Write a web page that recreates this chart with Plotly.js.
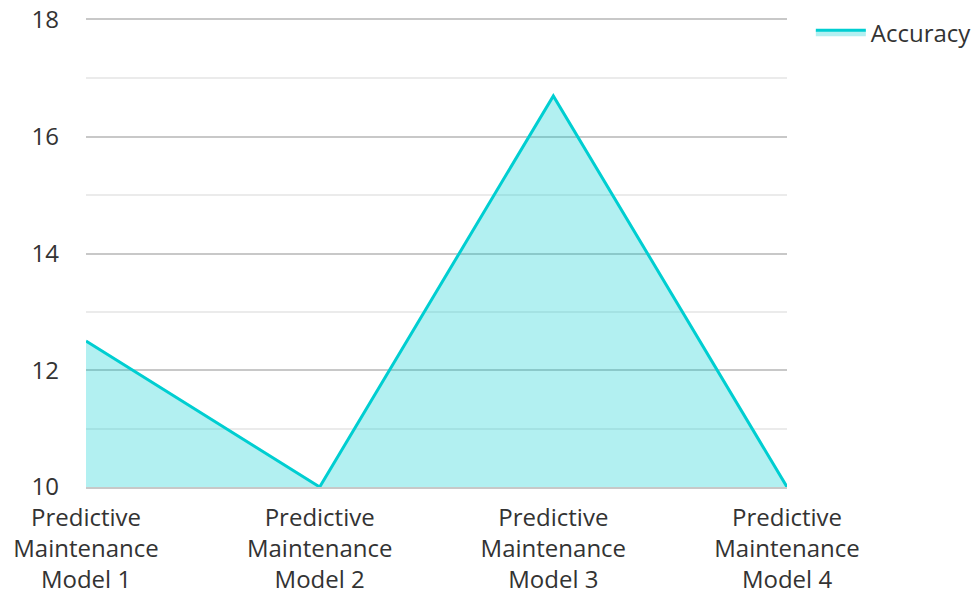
<!DOCTYPE html>
<html><head><meta charset="utf-8">
<script src="https://cdn.plot.ly/plotly-3.0.1.min.js"></script>
<style>html,body{margin:0;padding:0;background:#fff}</style>
</head><body><div id="chart" style="width:977px;height:592px"></div>
<script>
const categories = ["Predictive Maintenance Model 1","Predictive Maintenance Model 2","Predictive Maintenance Model 3","Predictive Maintenance Model 4"];
const tickLabels = ["Predictive<br>Maintenance<br>Model 1","Predictive<br>Maintenance<br>Model 2","Predictive<br>Maintenance<br>Model 3","Predictive<br>Maintenance<br>Model 4"];
const accuracy = [12.5, 10, 16.7, 10];
const seriesName = "Accuracy";

const trace = {
  x: categories, y: accuracy, name: seriesName, type: 'scatter', mode: 'lines',
  fill: 'tozeroy', fillcolor: 'rgba(0,206,209,0.3)',
  line: {color: '#00CED1', width: 3}
};
const layout = {
  width: 977, height: 592,
  margin: {l: 86, r: 190, t: 20, b: 105, autoexpand: false},
  paper_bgcolor: '#fff', plot_bgcolor: '#fff',
  font: {family: '"Open Sans", sans-serif', size: 24, color: '#333'},
  showlegend: true,
  legend: {x: 1.034, y: 1.021, xanchor: 'left', yanchor: 'top', itemwidth: 50,
           font: {size: 24, color: '#333'}},
  xaxis: {
    tickmode: 'array', tickvals: categories, ticktext: tickLabels,
    showgrid: false, zeroline: false, ticks: '',
    showline: true, mirror: true, linecolor: '#c8c8c8', linewidth: 1.5, layer: 'below traces',
    range: [0, 3], tickfont: {size: 24, color: '#333'}, ticklabelstandoff: 8
  },
  yaxis: {
    range: [10, 18], dtick: 2, showgrid: true, gridcolor: '#c8c8c8', gridwidth: 1.5,
    minor: {dtick: 1, showgrid: true, gridcolor: '#ebebeb', gridwidth: 1.5},
    zeroline: false, showline: false, ticks: '', layer: 'below traces',
    tickfont: {size: 24, color: '#333'}, ticklabelstandoff: 26
  }
};
Plotly.newPlot('chart', [trace], layout, {displayModeBar: false});
</script></body></html>
